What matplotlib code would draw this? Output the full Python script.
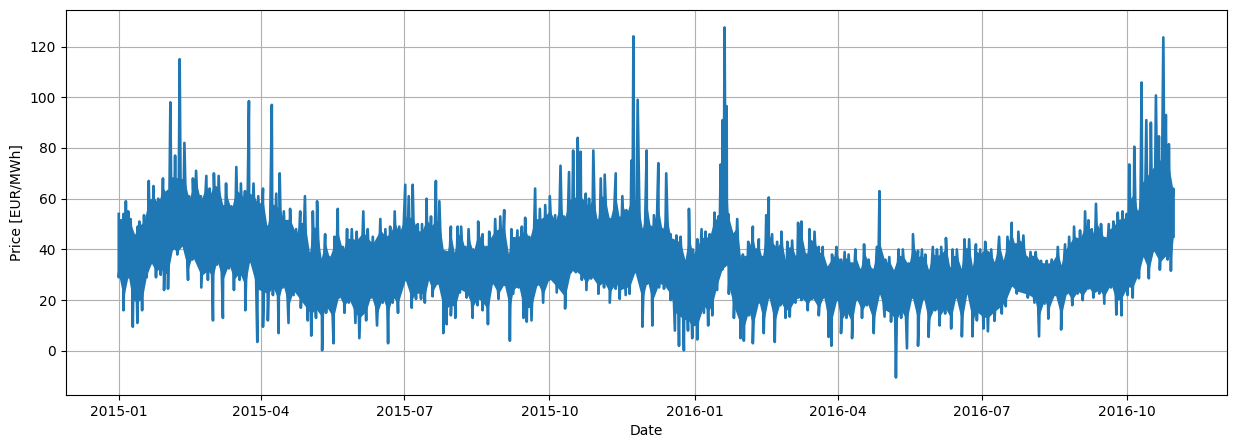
import numpy as np
import pandas as pd
import matplotlib
matplotlib.use('Agg')
import matplotlib.pyplot as plt

# prices, days counted from the first date
start_date = pd.Timestamp('2015-01-01')

peak_days = [0, 3, 4.5, 6, 7.5, 10, 12, 13, 16, 19, 22, 25, 28, 31, 32.7, 35.7, 38.6, 41.6, 44.5, 47, 49, 52, 55.5, 57.6,
             60.3, 63.3, 66.5, 68, 71.3, 74.5, 77.4, 80, 82.5, 85.4, 88.4, 91.4, 94, 97, 99.8, 102, 104.6, 108.6, 112.4,
             115, 118, 120.9, 123, 125.7, 128.3, 130.8, 133.5, 136.7, 138.8, 142, 144.7, 147.7, 150.8, 155, 157.8, 161,
             165.8, 169, 172, 174.9,
             177.8, 181.6, 183.8, 186.3, 189.5, 192.2, 195.1, 197.9, 201, 203.2, 205.7, 208.4, 210.5, 212.7, 214.8, 217,
             219.6, 221.7, 224.7, 227.8, 230.6, 233, 234.8, 238.6, 241.8, 244.3, 247, 248.9, 252.7, 255.5, 257.6, 260.1,
             263.9, 266.9, 270.3, 273.2, 276.6, 280, 282.3, 285.4, 288, 290.9, 292.8, 296, 298.1, 300.8, 303.4, 305.5,
             308, 311.2, 315, 317.5, 319.2, 321.7, 324.9, 326.2, 328.9, 331.9, 334.6, 337.1, 339.2, 342, 344.5, 347,
             349.8, 353.4, 356.1, 358.9,
             361.4, 363.9, 366.7, 369.4, 371.9, 374.5, 377.6, 380, 381.5, 382.7, 384, 385.3, 386.3, 389.2, 392, 394.1,
             395.6, 397.3, 399, 401.9, 404, 405.7, 407.8, 410.4, 412, 414.1, 417.3, 420, 422.6, 423.8, 426.8, 429.4,
             430.6, 432.7, 435.7, 437.8, 441, 443.7, 446.2, 449, 452.1, 454.9, 457.8, 460.1, 462.6, 464.8, 466.9, 470,
             472.4, 475.3, 477.8, 480.5, 482.2, 485.8, 488.4, 491.1, 494.3, 497, 500.7, 503.4, 506.6, 509.1, 511.2,
             513.3, 516, 518.6,
             521.3, 524.3, 527, 528.5, 531.2, 534, 536.1, 539, 541.1, 543.3, 546, 549.2, 553, 554.9, 558, 560.6, 563.3,
             566, 568.6, 570.2, 573.4, 575.5, 577.9, 581.2, 584.6, 588.2, 591.3, 595.2, 597.3, 599.8, 602.4, 605.5,
             609.3, 612.5, 614.6, 616.7, 619.4, 622.6, 625, 627.5, 630.4, 633.2, 636.2, 638.8, 640.5, 643.7, 645.8,
             648.3, 651.3, 654.2, 657.4, 659.3, 662.1, 663.7, 665.6, 668.4]
peak_prices = [54, 54, 59, 55, 52, 42, 49, 51, 53.5, 67, 65, 60, 68, 63, 98, 77, 115, 82, 61, 68, 71, 61, 69, 64,
               70, 69, 57, 66, 57, 72.5, 66, 63, 98.5, 66, 61, 64, 49, 97, 62, 70, 55, 56, 48,
               55, 61, 37, 55, 59, 34, 46, 37, 45, 56, 41, 48, 48, 47, 55, 48, 45,
               52, 48, 49, 55,
               49, 65.5, 61, 65.5, 50, 50, 60, 53, 67, 59, 33, 38, 49, 37, 49, 49,
               41, 48, 40, 51, 46, 41, 47, 52, 53, 55.5, 36, 48, 47.5, 49, 52.5, 45,
               64, 56, 57.5, 61, 53.5, 73, 53, 70.5, 79, 84, 78.5, 62, 60, 79, 51.5, 68,
               69.5, 52, 70, 52.5, 61, 55.5, 75, 124, 99, 48, 79, 49, 53.5, 74, 48, 70,
               46, 45.5, 45, 32,
               56, 40, 44, 48, 47, 46, 54.5, 53, 73.5, 91, 127.5, 96.5, 54, 43, 52, 29,
               38, 37, 43, 49, 40, 44, 37, 53.5, 60.5, 46, 43, 47, 32, 43, 43.5, 37,
               50.5, 51, 38, 48, 47, 41, 41, 30.5, 38, 41, 36, 39, 38, 34.5, 40, 32,
               42, 36, 32, 41, 63, 36, 37, 31, 40, 40, 34.5, 46, 39.5, 40, 38,
               30, 41, 40,
               41, 44.5, 32.5, 40, 40, 29, 44, 44, 32, 42, 40, 43, 40, 32, 45, 35, 45,
               50.5, 42, 47, 45.5, 37, 39, 39, 35.5, 35.5, 36, 41, 32, 42, 45, 49,
               47.5, 55, 51.5, 48, 58, 50, 44.5, 50, 51, 54.5, 55, 54, 73.5, 80.5, 55,
               105.8, 91, 90, 100.7, 84.6, 123.6, 93, 81.5, 64]

dip_days = [0, 3, 6, 8.9, 11.8, 14.8, 17.7, 20.7, 23.6, 26.6, 28.7, 31.2, 34.2, 37.1, 40.1, 43.9, 46.6, 52.3, 56.5, 59.7,
            62.2, 66, 69.8, 73, 76.6, 80.2, 82.9, 87.8, 91.4, 94.5, 97.7, 101.3, 104, 107.6, 110.8, 115.4, 119.8, 122,
            125, 128.9, 131.4, 136.1, 139.5, 143, 145.8, 150, 152.5, 156.8, 159.9, 163.7, 167.3, 170.7, 173.6, 177,
            181.6, 185.7, 188.4, 191.6, 194, 196.4, 198.9, 202.1, 205.7, 207.8, 210.5, 213.3, 216.2, 220.5, 224.3,
            227.4, 230.6, 234, 236.9, 240.7, 244.3, 247.9, 250, 253.4, 256.5, 258.6, 261.6, 265.4, 269, 272.8, 277.6,
            282.9, 286.5, 289.7, 293.5, 296.4, 299.4, 304, 307.6, 311.2, 315, 317.5, 321.3, 323.8, 327.2, 331.9, 335,
            338.2, 342.4, 345.6, 349.8, 352.5, 355.1, 358.2, 360.8,
            363.5, 366.7, 370.9, 373.6, 376.2, 379.3, 382.5, 385.7, 386.7, 389.9, 394.1, 396.2, 399.4, 401.9, 405.7,
            408.8, 412, 415.8, 419.4, 422.6, 425.3, 428.9, 432.7, 436.7, 439.4, 443.7, 446.8, 449.9, 451.7, 455.3,
            457.8, 461.2, 464.8, 467.5, 471.1, 474.3, 478.5, 482.2, 485.4, 489.5, 492.6, 495.9, 499.6, 502.8, 506.6,
            510.1, 513.3, 517.5,
            520.3, 523.8, 527.6, 530.6, 534.4, 537.6, 541.1, 543.9, 548.1, 550.9, 555.1, 559.7, 562.2, 566, 569.2,
            576.2, 580.4, 583.3, 586.8, 589.2, 593.4, 597.3, 600.9, 604.4, 607.8, 611, 614.6, 617.7, 621.5, 624.7,
            628.9, 632.3, 635.6, 639.4, 642.7, 646.6, 649.3, 652.9, 655.9, 659.9, 664.8, 666.9, 668.4]
dip_prices = [29, 16, 29, 9.5, 11, 16, 29, 35, 29, 30, 24, 24.5, 40, 38, 42, 28, 36, 25, 28, 12,
              34, 13, 32.5, 24, 28, 16, 35, 3.5, 9.5, 12, 22, 7, 25, 11, 22, 17, 12, 6,
              13, 0.2, 15, 3, 21, 15, 19, 11, 5, 12, 21, 10, 19, 3, 19, 15,
              28, 17, 20.5, 20.5, 19, 30, 21.5, 26.5, 7, 10.5, 14, 13, 23, 21, 13,
              18, 16, 10.5, 26.5, 20.5, 26, 4, 22.5, 25, 13, 11.5, 12, 26, 19, 28, 23,
              16.7, 31, 31, 28, 24, 28.5, 22.5, 25, 19, 24.5, 20.5, 22, 22.5, 31, 9.5, 26.5,
              10, 25, 24.5, 20, 8, 2, 0.2, 8,
              5, 4.5, 15, 10, 14, 24, 32, 36, 22.5, 13, 5, 4, 14, 3, 19,
              7, 21, 3.5, 18, 13, 13.5, 19, 20, 16, 20.5, 14, 21, 5.5, 2, 20,
              7, 13, 5, 20, 13, 18, 7, 22.5, 13.5, 11.5, -10.5, 13, 1, 21, 2,
              20.5, 5.5, 16,
              10, 14.7, 8.8, 21, 5.7, 22.6, 5.7, 12, 8.8, 7.7, 11.8, 14.7, 17.6, 26, 22.6,
              21, 19, 5.7, 18.6, 12.7, 22, 8.4, 22.6, 18, 22.6, 20, 24.6, 21, 22.6, 18.6,
              25, 14.3, 14, 22, 21, 28.6, 41, 28.6, 39.4, 32, 36, 31.6, 45]

# solid part of the band
band_days = [0, 15, 30, 60, 90, 110, 130, 160, 180, 205, 230, 260, 290, 320, 345, 365, 385, 395, 430, 460, 500, 530, 570,
             590, 620, 640, 660, 669]
band_low = [32, 30, 42, 40, 35, 28, 24, 24, 28, 28, 27, 28, 33, 32, 30, 20, 35, 20, 24, 22, 23, 22, 26, 24, 27, 33, 42, 45]
band_high = [48, 45, 58, 55, 50, 42, 36, 36, 42, 40, 36, 40, 50, 50, 45, 32, 55, 35, 36, 32, 32, 32, 37, 32, 40, 48, 65, 60]


def to_dates(days):
    return start_date + pd.to_timedelta(np.asarray(days, dtype=float), unit='D')


# put peaks and dips in date order, passing through the band between them
days = np.array(peak_days + dip_days)
prices = np.array(peak_prices + dip_prices)
order = np.argsort(days, kind='stable')
days = days[order]
prices = prices[order]
mid_days = (days[:-1] + days[1:]) / 2
mid_prices = np.interp(mid_days, band_days, (np.array(band_low) + np.array(band_high)) / 2)
line_days = np.empty(len(days) + len(mid_days))
line_prices = np.empty(len(line_days))
line_days[0::2] = days
line_days[1::2] = mid_days
line_prices[0::2] = prices
line_prices[1::2] = mid_prices

# skirt around the band so the spikes get wider towards the middle
top_base = np.interp(peak_days, band_days, band_high)
top_skirt = top_base + np.minimum(0.7 * np.clip(np.array(peak_prices) - top_base, 0, None), 11)
bottom_base = np.interp(dip_days, band_days, band_low)
bottom_skirt = bottom_base - np.minimum(0.7 * np.clip(bottom_base - np.array(dip_prices), 0, None), 11)

fig = plt.figure(figsize=(12.38, 4.48), dpi=100)
ax = fig.add_axes([66 / 1238, 1 - 395 / 448, (1227 - 66) / 1238, (395 - 10) / 448])
# zorder 2 keeps the grid behind the filled part
ax.fill_between(to_dates(band_days), band_low, band_high, color='C0', linewidth=0, zorder=2)
ax.fill_between(to_dates(peak_days), top_base - 3, top_skirt, color='C0', linewidth=0, zorder=2)
ax.fill_between(to_dates(dip_days), bottom_skirt, bottom_base + 3, color='C0', linewidth=0, zorder=2)
ax.plot(to_dates(line_days), line_prices, color='C0', linewidth=1.9)
ax.set_xlabel('Date')
ax.set_ylabel('Price [EUR/MWh]')
ax.grid(True)
fig.savefig('out.png', dpi=100)
